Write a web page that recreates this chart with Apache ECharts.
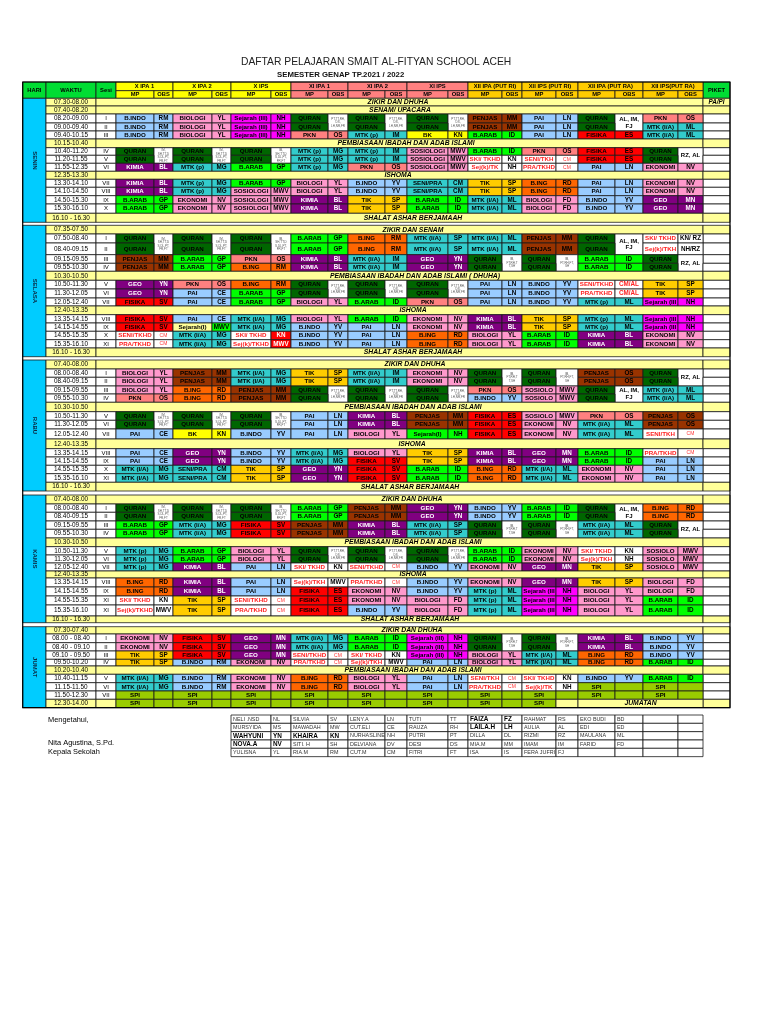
<!DOCTYPE html>
<html>
<head>
<meta charset="utf-8">
<style>html,body{margin:0;padding:0;background:#fff}#main{width:768px;height:1024px}</style>
<script src="https://cdn.jsdelivr.net/npm/echarts@6/dist/echarts.min.js"></script>
</head>
<body>
<div id="main"></div>
<script>
// ---- data ----
var hari = ['SENIN', 'SELASA', 'RABU', 'KAMIS', 'JUMAT'];
var kelas = ['X IPA 1', 'X IPA 2', 'X IPS', 'XI IPA 1', 'XI IPA 2', 'XI IPS', 'XII IPA (PUT RI)', 'XII IPS (PUT RI)', 'XII IPA (PUT RA)', 'XII IPS(PUT RA)'];

var mapel = {
  Q: 'QURAN', BI: 'B.INDO', BIO: 'BIOLOGI', SJ: 'Sejarah (III)', SJY: 'Sejarah(I)', SJG: 'Sejarah(I)',
  KIM: 'KIMIA', MP: 'MTK (p)', MA: 'MTK (I/A)', BA: 'B.ARAB', EKO: 'EKONOMI', SOS: 'SOSIOLOGI', TIK: 'TIK',
  PKN: 'PKN', FIS: 'FISIKA', PAI: 'PAI', PJ: 'PENJAS', GEO: 'GEO', BK: 'BK', SP: 'SENI/PRA', BG: 'B.ING',
  ST: 'SENI/TKHD', PT: 'PRA/TKHD', SK: 'SKI/ TKHD', SKR: 'SKI/ TKHD', JT: 'Sej(k)/TKHD', SJR: 'Sej(k)/TKHD',
  SPI: 'SPI', JMT: 'JUMATAN'
};
var obsNama = {
  Q1: 'IM,\nSH,TT,D\nS,DL,PT,\nFR,FT', Q2: 'PT,TT,RH,\nDS,\nLH,NR,FR', Q3: 'IM,\nFT,RH,T\nT,SH', Q4: 'IM,\nFT,RH,FT,\nSH',
  ALF: 'AL, IM,\nFJ', RZA: 'RZ, AL', KNRZ: 'KN/ RZ', NHRZ: 'NH/RZ', CMAL: 'CM/AL', '-': '', KOS: ''
};

// each teaching row: time, session, then ten "subject teacher" pairs; ^ merges with the row above
var seninRows = [
  ['07.30-08.00', 'ZIKIR DAN DHUHA', 'PA/PI'],
  ['07.40-08.20', 'SENAM/ UPACARA'],
  ['08.20-09.00', 'I', 'BI RM BIO YL SJ NH Q Q2 Q Q2 Q Q2 PJ MM PAI LN Q ALF PKN OS'],
  ['09.00-09.40', 'II', 'BI RM BIO YL SJ NH Q ^ Q ^ Q ^ PJ MM PAI LN Q ^ MA ML'],
  ['09.40-10.15', 'III', 'BI RM BIO YL SJ NH PKN OS MP IM BK KN BA ID PAI LN FIS ES MA ML'],
  ['10.15-10.40', 'PEMBIASAAN IBADAH DAN ADAB ISLAMI'],
  ['10.40-11.20', 'IV', 'Q Q1 Q Q1 Q Q1 MP MG MP IM SOS MWV BA ID PKN OS FIS ES Q RZA'],
  ['11.20-11.55', 'V', 'Q ^ Q ^ Q ^ MP MG MP IM SOS MWV SK KN ST CM FIS ES Q ^'],
  ['11.55-12.35', 'VI', 'KIM BL MP MG BA GP MP MG PKN OS SOS MWV JT NH PT CM PAI LN EKO NV'],
  ['12.35-13.30', 'ISHOMA'],
  ['13.30-14.10', 'VII', 'KIM BL MP MG BA GP BIO YL BI YV SP CM TIK SP BG RD PAI LN EKO NV'],
  ['14.10-14.50', 'VIII', 'KIM BL MP MG SOS MWV BIO YL BI YV SP CM TIK SP BG RD PAI LN EKO NV'],
  ['14.50-15.30', 'IX', 'BA GP EKO NV SOS MWV KIM BL TIK SP BA ID MA ML BIO FD BI YV GEO MN'],
  ['15.30-16.10', 'X', 'BA GP EKO NV SOS MWV KIM BL TIK SP BA ID MA ML BIO FD BI YV GEO MN'],
  ['16.10 - 16.30', 'SHALAT ASHAR BERJAMAAH']
];
var selasaRows = [
  ['07.35-07.50', 'ZIKIR DAN SENAM'],
  ['07.50-08.40', 'I', 'Q Q1 Q Q1 Q Q1 BA GP BG RM MA SP MA ML PJ MM Q ALF SK KNRZ'],
  ['08.40-09.15', 'II', 'Q ^ Q ^ Q ^ BA GP BG RM MA SP MA ML PJ MM Q ^ JT NHRZ'],
  ['09.15-09.55', 'III', 'PJ MM BA GP PKN OS KIM BL MA IM GEO YN Q Q3 Q Q4 BA ID Q RZA'],
  ['09.55-10.30', 'IV', 'PJ MM BA GP BG RM KIM BL MA IM GEO YN Q ^ Q ^ BA ID Q ^'],
  ['10.30-10.50', 'PEMBIASAAN IBADAH DAN ADAB ISLAMI ( DHUHA)'],
  ['10.50-11.30', 'V', 'GEO YN PKN OS BG RM Q Q2 Q Q2 Q Q2 PAI LN BI YV ST CMAL TIK SP'],
  ['11.30-12.05', 'VI', 'GEO YN PAI CE BA GP Q ^ Q ^ Q ^ PAI LN BI YV PT CMAL TIK SP'],
  ['12.05-12.40', 'VII', 'FIS SV PAI CE BA GP BIO YL BA ID PKN OS PAI LN BI YV MP ML SJ NH'],
  ['12.40-13.35', 'ISHOMA'],
  ['13.35-14.15', 'VIII', 'FIS SV PAI CE MA MG BIO YL BA ID EKO NV KIM BL TIK SP MP ML SJ NH'],
  ['14.15-14.55', 'IX', 'FIS SV SJY MWV MA MG BI YV PAI LN EKO NV KIM BL TIK SP MP ML SJ NH'],
  ['14.55-15.35', 'X', 'ST CM MA MG SKR KN BI YV PAI LN BG RD BIO YL BA ID KIM BL EKO NV'],
  ['15.35-16.10', 'XI', 'PT CM MA MG SJR MWV BI YV PAI LN BG RD BIO YL BA ID KIM BL EKO NV'],
  ['16.10 - 16.30', 'SHALAT ASHAR BERJAMAAH']
];
var rabuRows = [
  ['07.40-08.00', 'ZIKIR DAN DHUHA'],
  ['08.00-08.40', 'I', 'BIO YL PJ MM MA MG TIK SP MA IM EKO NV Q Q3 Q Q4 PJ OS Q RZA'],
  ['08.40-09.15', 'II', 'BIO YL PJ MM MA MG TIK SP MA IM EKO NV Q ^ Q ^ PJ OS Q ^'],
  ['09.15-09.55', 'III', 'BIO YL BG RD PJ MM Q Q2 Q Q2 Q Q2 PKN OS SOS MWV Q ALF MA ML'],
  ['09.55-10.30', 'IV', 'PKN OS BG RD PJ MM Q ^ Q ^ Q ^ BI YV SOS MWV Q ^ MA ML'],
  ['10.30-10.50', 'PEMBIASAAN IBADAH DAN ADAB ISLAMI'],
  ['10.50-11.30', 'V', 'Q Q1 Q Q1 Q Q1 PAI LN KIM BL PJ MM FIS ES SOS MWV PKN OS PJ OS'],
  ['11.30-12.05', 'VI', 'Q ^ Q ^ Q ^ PAI LN KIM BL PJ MM FIS ES EKO NV MA ML PJ OS'],
  ['12.05-12.40', 'VII', 'PAI CE BK KN BI YV PAI LN BIO YL SJG NH FIS ES EKO NV MA ML ST CM'],
  ['12.40-13.35', 'ISHOMA'],
  ['13.35-14.15', 'VIII', 'PAI CE GEO YN BI YV MA MG BIO YL TIK SP KIM BL GEO MN BA ID PT CM'],
  ['14.15-14.55', 'IX', 'PAI CE GEO YN BI YV MA MG FIS SV TIK SP KIM BL GEO MN BA ID PAI LN'],
  ['14.55-15.35', 'X', 'MA MG SP CM TIK SP GEO YN FIS SV BA ID BG RD MA ML EKO NV PAI LN'],
  ['15.35-16.10', 'XI', 'MA MG SP CM TIK SP GEO YN FIS SV BA ID BG RD MA ML EKO NV PAI LN'],
  ['16.10 - 16.30', 'SHALAT ASHAR BERJAMAAH']
];
var kamisRows = [
  ['07.40-08.00', 'ZIKIR DAN DHUHA'],
  ['08.00-08.40', 'I', 'Q Q1 Q Q1 Q Q1 BA GP PJ MM GEO YN BI YV BA ID Q ALF BG RD'],
  ['08.40-09.15', 'II', 'Q ^ Q ^ Q ^ BA GP PJ MM GEO YN BI YV BA ID Q ^ BG RD'],
  ['09.15-09.55', 'III', 'BA GP MA MG FIS SV PJ MM KIM BL MA SP Q Q3 Q Q4 MA ML Q RZA'],
  ['09.55-10.30', 'IV', 'BA GP MA MG FIS SV PJ MM KIM BL MA SP Q ^ Q ^ MA ML Q ^'],
  ['10.30-10.50', 'PEMBIASAAN IBADAH DAN ADAB ISLAMI'],
  ['10.50-11.30', 'V', 'MP MG BA GP BIO YL Q Q2 Q Q2 Q Q2 BA ID EKO NV SK KN SOS MWV'],
  ['11.30-12.05', 'VI', 'MP MG BA GP BIO YL Q ^ Q ^ Q ^ BA ID EKO NV JT NH SOS MWV'],
  ['12.05-12.40', 'VII', 'MP MG KIM BL PAI LN SK KN ST CM BI YV EKO NV GEO MN TIK SP SOS MWV'],
  ['12.40-13.35', 'ISHOMA'],
  ['13.35-14.15', 'VIII', 'BG RD KIM BL PAI LN JT MWV PT CM BI YV EKO NV GEO MN TIK SP BIO FD'],
  ['14.15-14.55', 'IX', 'BG RD KIM BL PAI LN FIS ES EKO NV BI YV MP ML SJ NH BIO YL BIO FD'],
  ['14.55-15.35', 'XI', 'SK KN TIK SP ST CM FIS ES EKO NV BIO FD MP ML SJ NH BIO YL BA ID'],
  ['15.35-16.10', 'XI', 'JT MWV TIK SP PT CM FIS ES BI YV BIO FD MP ML SJ NH BIO YL BA ID'],
  ['16.10 - 16.30', 'SHALAT ASHAR BERJAMAAH']
];
var jumatRows = [
  ['07.30-07.40', 'ZIKIR DAN DHUHA'],
  ['08.00 - 08.40', 'I', 'EKO NV FIS SV GEO MN MA MG BA ID SJ NH Q Q3 Q Q4 KIM BL BI YV'],
  ['08.40 - 09.10', 'II', 'EKO NV FIS SV GEO MN MA MG BA ID SJ NH Q ^ Q ^ KIM BL BI YV'],
  ['09.10 - 09.50', 'III', 'TIK SP FIS SV GEO MN ST CM SK KN SJ NH BIO YL MA ML BG RD BI YV'],
  ['09.50-10.20', 'IV', 'TIK SP BI RM EKO NV PT CM JT MWV PAI LN BIO YL MA ML BG RD BA ID'],
  ['10.20-10.40', 'PEMBIASAAN IBADAH DAN ADAB ISLAMI'],
  ['10.40-11.15', 'V', 'MA MG BI RM EKO NV BG RD BIO YL PAI LN ST CM SK KN BI YV BA ID'],
  ['11.15-11.50', 'VI', 'MA MG BI RM EKO NV BG RD BIO YL PAI LN PT CM JT NH SPI - SPI -'],
  ['11.50-12.30', 'VII', 'SPI - SPI - SPI - SPI - SPI - SPI - SPI - SPI - SPI - SPI -'],
  ['12.30-14.00', '', 'SPI - SPI - SPI - SPI - SPI - SPI - SPI - SPI KOS JMT > > >']
];
var semuaRows = [seninRows, selasaRows, rabuRows, kamisRows, jumatRows];

var guruNama = [
  ['NELI .NSD', 'MURSYIDA', 'WAHYUNI', 'NOVA.A', 'YULISNA'],
  ['SILVIA', 'MAWADAH', 'KHAIRA', 'SITI. H', 'RIA.M'],
  ['LENY.A', 'CUT.ELI', 'NURHASLINE', 'DELVIANA', 'CUT.M'],
  ['TUTI', 'RAUZA', 'PUTRI', 'DESI', 'FITRI'],
  ['FAIZA', 'LAILA.H', 'DILLA', 'MIA.M', 'ISA'],
  ['RAHMAT', 'AULIA', 'RIZMI', 'IMAM', 'FERA JUFRI'],
  ['EKO BUDI', 'EDI', 'MAULANA', 'FARID', ''],
  ['', '', '', '', '']
];
var guruKode = [
  ['NL', 'MS', 'YN', 'NV', 'YL'],
  ['SV', 'MW', 'KN', 'SH', 'RM'],
  ['LN', 'CE', 'NH', 'DV', 'CM'],
  ['TT', 'RH', 'PT', 'DS', 'FT'],
  ['FZ', 'LH', 'DL', 'MM', 'IS'],
  ['RS', 'AL', 'RZ', 'IM', 'FJ'],
  ['BD', 'ED', 'ML', 'FD', ''],
  ['', '', '', '', '']
];
var guruTebal = ['WAHYUNI', 'NOVA.A', 'KHAIRA', 'FAIZA', 'LAILA.H'];

// ---- layout (axis units) ----
var hariX = [22.7, 46, 96, 116];
var kolomX = [116, 154, 173, 212, 231, 271, 291, 328, 348, 385, 407, 448, 468, 502, 522, 556, 578, 615, 643, 678, 703];
var piketKanan = 730;
var headY = [82, 90.7, 98.3];
var barisY = [
  [98.3, 106, 114, 123, 131, 139, 147.7, 155.3, 163.3, 171.3, 179.3, 187.3, 195.7, 204, 213.3, 222.3],
  [225.3, 234, 243, 254.7, 263.3, 271.3, 280.3, 289, 298, 306, 314.7, 323, 331.3, 339.7, 348, 356.7],
  [360, 369, 377.3, 386, 394, 402.3, 411.7, 420.3, 429, 439, 448.7, 457, 465.3, 473.7, 482.3, 491],
  [495, 504, 512.3, 521, 529.3, 538, 546.7, 555, 563, 571, 578, 587, 596, 605, 616, 622.7],
  [626.7, 634, 642.7, 651, 659.3, 666, 674.3, 682.7, 691, 699.3, 707.7]
];
// the band captions are not all centred on the same spot
var pitaTengah = [[398, 400, 406, 398, 413], [413, 415, 413, 413], [415, 413, 412, 410], [412, 413, 413, 410], [412, 413]];
var guruY = 715, guruTinggi = 8.33;

// ---- colours ----
var warna = {
  Q: '#006600', BI: '#99ccff', BIO: '#ff99cc', SJ: '#ff00ff', SJY: '#ffff99', SJG: '#00ff00', KIM: '#800080',
  MP: '#33cccc', MA: '#33cccc', BA: '#00ff00', EKO: '#ff99cc', SOS: '#ff99cc', TIK: '#ffcc00', PKN: '#ff8080',
  FIS: '#ff0000', PAI: '#99ccff', PJ: '#993300', GEO: '#800080', BK: '#ffff00', SP: '#33cccc', BG: '#ff6600',
  ST: '#ffffff', PT: '#ffffff', SK: '#ffffff', SKR: '#ffffff', JT: '#ffffff', SJR: '#ffffff', SPI: '#99cc00', JMT: '#ffff99'
};
var pucat = '#ffff99', hijauKepala = '#00dd33', biruHari = '#00ccff';
var warnaKelas = ['#ffff00', '#ffff00', '#ffff00', '#ff8080', '#ff8080', '#ff8080', '#ffcc00', '#ffcc00', '#ffcc00', '#ffcc00'];
var merah = ['ST', 'PT', 'SK', 'SKR', 'JT', 'SJR'];
var teksPutih = ['KIM', 'GEO'];

var cells = [];
function tambah(x0, x1, y0, y1, o) {
  o.x0 = x0; o.x1 = x1; o.y0 = y0; o.y1 = y1;
  cells.push(o);
}

function isiObs(kode, obs, x0, x1, y0, y1) {
  var o = {text: obsNama[obs] !== undefined ? obsNama[obs] : obs, fill: warna[kode], color: '#000', weight: 'bold', size: 6.3};
  if (teksPutih.indexOf(kode) >= 0) o.color = '#fff';
  if (kode === 'SJY') o.fill = '#00ff00';
  if (kode === 'SKR' || kode === 'SJR') { o.fill = '#ff0000'; o.color = '#fff'; }
  if (obs === 'KOS') o.fill = pucat;
  if (/^Q\d/.test(obs)) { o.fill = '#fff'; o.color = '#555'; o.weight = 'normal'; o.size = 3; }
  if (obs === 'ALF' || obs === 'RZA') { o.fill = '#fff'; o.size = 6; }
  if (merah.indexOf(kode) >= 0) {
    if (obs === 'CM') { o.color = '#ff3333'; o.weight = 'normal'; o.size = 5; }
    if (obs === 'CMAL') { o.color = '#ff2222'; }
  }
  tambah(x0, x1, y0, y1, o);
}

// header
tambah(hariX[0], hariX[1], headY[0], headY[2], {text: 'HARI', fill: hijauKepala, size: 5.8, weight: 'bold'});
tambah(hariX[1], hariX[2], headY[0], headY[2], {text: 'WAKTU', fill: hijauKepala, size: 5.8, weight: 'bold'});
tambah(hariX[2], hariX[3], headY[0], headY[2], {text: 'Sesi', fill: hijauKepala, size: 5.8, weight: 'bold'});
tambah(703, piketKanan, headY[0], headY[2], {text: 'PIKET', fill: hijauKepala, size: 5.8, weight: 'bold'});
kelas.forEach(function (k, i) {
  tambah(kolomX[i * 2], kolomX[i * 2 + 2], headY[0], headY[1], {text: k, fill: warnaKelas[i], size: 5.8, weight: 'bold'});
  tambah(kolomX[i * 2], kolomX[i * 2 + 1], headY[1], headY[2], {text: 'MP', fill: warnaKelas[i], size: 5.8, weight: 'bold'});
  tambah(kolomX[i * 2 + 1], kolomX[i * 2 + 2], headY[1], headY[2], {text: 'OBS', fill: warnaKelas[i], size: 5.8, weight: 'bold'});
});

// five day blocks
semuaRows.forEach(function (rows, d) {
  var ys = barisY[d], pita = 0;
  tambah(hariX[0], hariX[1], ys[0], ys[ys.length - 1], {text: hari[d], fill: biruHari, size: 6, weight: 'bold', color: '#0a2a44', rotate: true});
  var token = rows.map(function (r) { return r.length === 3 && r[2] && r[2].indexOf(' ') > 0 ? r[2].split(' ') : null; });
  rows.forEach(function (row, r) {
    var y0 = ys[r], y1 = ys[r + 1], t = token[r];
    tambah(hariX[1], hariX[2], y0, y1, {text: row[0], fill: t && row[1] ? '#fff' : pucat, size: 6.4});
    if (!t) {
      tambah(hariX[2], 703, y0, y1, {text: row[1], fill: pucat, size: 6.8, weight: 'bold', italic: true, cx: pitaTengah[d][pita++]});
      tambah(703, piketKanan, y0, y1, {text: row[2] || '', fill: pucat, size: 6.3, weight: 'bold', italic: true});
      return;
    }
    tambah(hariX[2], hariX[3], y0, y1, {text: row[1], fill: row[1] ? '#fff' : pucat, size: 6});
    tambah(703, piketKanan, y0, y1, {text: '', fill: row[1] ? '#fff' : pucat});
    for (var c = 0; c < 20; c += 2) {
      var kode = t[c], obs = t[c + 1];
      if (kode === '>') continue;
      var x0 = kolomX[c], x1 = kolomX[c + 1], x2 = kolomX[c + 2];
      if (kode === 'JMT') {
        tambah(x0, 703, y0, y1, {text: mapel.JMT, fill: warna.JMT, size: 6.8, weight: 'bold', italic: true});
        continue;
      }
      tambah(x0, x1, y0, y1, {
        text: mapel[kode], fill: warna[kode], size: 6.2, weight: 'bold', potong: true,
        color: merah.indexOf(kode) >= 0 ? '#ff2222' : teksPutih.indexOf(kode) >= 0 ? '#fff' : '#000'
      });
      if (obs === '^') continue;
      var yb = y1;
      if (r + 1 < rows.length && token[r + 1] && token[r + 1][c + 1] === '^') yb = ys[r + 2];
      isiObs(kode, obs, x1, x2, y0, yb);
    }
  });
});

// outer frame of the timetable, and the line between days
tambah(hariX[0], piketKanan, headY[0], 707.7, {text: '', fill: 'transparent', lebar: 1.2, bingkai: true});

// teacher code table
guruNama.forEach(function (kol, k) {
  kol.forEach(function (nama, b) {
    var ya = guruY + b * guruTinggi, yb = ya + guruTinggi;
    var tebal = guruTebal.indexOf(nama) >= 0;
    tambah(kolomX[4 + k * 2], kolomX[5 + k * 2], ya, yb, {
      text: nama, fill: '#fff', size: tebal ? 6.4 : 5.4, weight: tebal ? 'bold' : 'normal', color: tebal ? '#000' : '#333', kiri: true, potong: false
    });
    tambah(kolomX[5 + k * 2], kolomX[6 + k * 2], ya, yb, {
      text: guruKode[k][b], fill: '#fff', size: tebal ? 6.4 : 5.4, weight: tebal ? 'bold' : 'normal', color: tebal ? '#000' : '#333', kiri: true
    });
  });
});

// signature
tambah(46, 140, 716, 724, {text: 'Mengetahui,', size: 7.4, kiri: true, tanpaGaris: true});
tambah(46, 140, 739, 747, {text: 'Nita Agustina, S.Pd.', size: 7.4, kiri: true, tanpaGaris: true});
tambah(46, 140, 748, 756, {text: 'Kepala Sekolah', size: 7.4, kiri: true, tanpaGaris: true});

var HURUF = '"Liberation Sans", Arial, sans-serif';

function renderItem(params, api) {
  var c = cells[api.value(0)];
  var a = api.coord([c.x0, c.y0]), b = api.coord([c.x1, c.y1]);
  var w = b[0] - a[0], h = b[1] - a[1], kids = [];
  if (!c.tanpaGaris) {
    kids.push({
      type: 'rect', shape: {x: a[0], y: a[1], width: w, height: h},
      style: {fill: c.fill, stroke: c.bingkai ? '#000' : '#1a1a1a', lineWidth: c.lebar || 0.8}
    });
  }
  if (c.text) {
    var tx = c.cx !== undefined ? api.coord([c.cx, c.y0])[0] : (c.kiri ? a[0] + 2 : a[0] + w / 2);
    var st = {
      text: c.text, x: tx, y: a[1] + h / 2, align: c.kiri ? 'left' : 'center', verticalAlign: 'middle',
      fill: c.color || '#000', fontFamily: HURUF, fontSize: c.size, fontWeight: c.weight || 'normal',
      fontStyle: c.italic ? 'italic' : 'normal', lineHeight: c.size * 1.15
    };
    if (c.potong) { st.width = w - 1; st.overflow = 'truncate'; st.ellipsis = ''; }
    var el = {type: 'text', style: st};
    if (c.rotate) {
      st.x = 0; st.y = 0;
      el.x = tx; el.y = a[1] + h / 2; el.rotation = -Math.PI / 2;
    }
    kids.push(el);
  }
  return {type: 'group', children: kids};
}

var chart = echarts.init(document.getElementById('main'), null, {renderer: 'canvas', width: 768, height: 1024});
chart.setOption({
  animation: false,
  backgroundColor: '#fff',
  title: [
    {text: 'DAFTAR PELAJARAN SMAIT AL-FITYAN SCHOOL ACEH', left: 241, top: 57.5, padding: 0,
     textStyle: {fontFamily: HURUF, fontSize: 10.3, fontWeight: 'normal', color: '#222'}},
    {text: 'SEMESTER GENAP TP.2021 / 2022', left: 277, top: 70.5, padding: 0,
     textStyle: {fontFamily: HURUF, fontSize: 7.8, fontWeight: 'bold', color: '#111'}}
  ],
  grid: {left: 0, right: 0, top: 0, bottom: 0},
  xAxis: {type: 'value', min: 0, max: 768, show: false},
  yAxis: {type: 'value', min: 0, max: 1024, inverse: true, show: false},
  series: [{
    type: 'custom',
    coordinateSystem: 'cartesian2d',
    silent: true,
    clip: false,
    encode: {x: 1, y: 2},
    data: cells.map(function (c, i) { return [i, c.x0, c.y0]; }),
    renderItem: renderItem
  }]
});
</script>
</body>
</html>
